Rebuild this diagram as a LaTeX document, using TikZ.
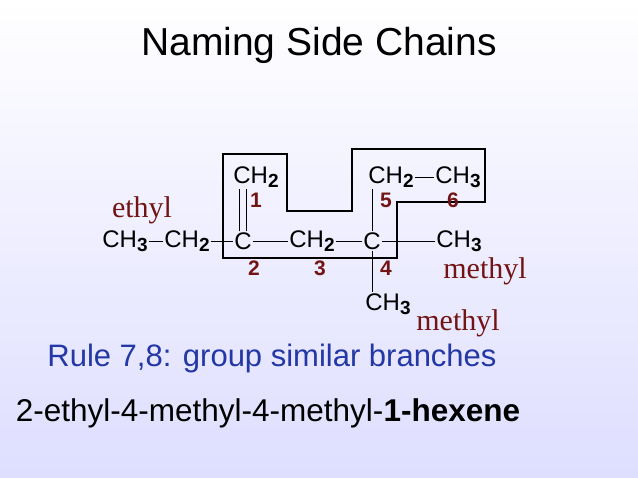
\documentclass[tikz,border=0pt]{standalone}
\usepackage{fontspec}
\setmainfont{Liberation Sans}
\newfontfamily\serifname{Liberation Serif}
\usetikzlibrary{positioning}
\definecolor{numred}{RGB}{115,20,20}
\definecolor{ruleblue}{RGB}{35,55,165}
\newcommand{\sub}[1]{\raisebox{-0.35ex}{\textbf{\fontsize{19}{19}\selectfont #1}}}
\tikzset{
	grp/.style={font=\fontsize{24}{24}\selectfont, inner sep=1pt},
	num/.style={font=\bfseries\fontsize{21}{21}\selectfont, text=numred},
	side/.style={font=\serifname\fontsize{30}{30}\selectfont, text=numred},
	bond/.style={line width=0.9pt},
}
\begin{document}
\begin{tikzpicture}[x=1pt,y=-1pt]
\shade[top color=white, bottom color=blue!13] (0,0) rectangle (638,478);
\useasboundingbox (0,0) rectangle (638,478);
\node[font=\fontsize{39}{39}\selectfont] (title) at (319,45) {Naming Side Chains};
% main chain
\node[grp] (a) at (125,241) {CH\sub{3}};
\node[grp] (b) at (187,241) {CH\sub{2}};
\node[grp] (c2) at (243,241) {C};
\node[grp] (c3) at (312,241) {CH\sub{2}};
\node[grp] (c4) at (372,241) {C};
\node[grp] (r) at (459,241) {CH\sub{3}};
\node[grp] (t1) at (256,177) {CH\sub{2}};
\node[grp] (t5) at (391,177) {CH\sub{2}};
\node[grp] (t6) at (458,177) {CH\sub{3}};
\node[grp] (d) at (388,304) {CH\sub{3}};
\draw[bond] (a) -- (b);
\draw[bond] (b) -- (c2);
\draw[bond] (c2) -- (c3);
\draw[bond] (c3) -- (c4);
\draw[bond] (c4) -- (r);
\draw[bond] (t5) -- (t6);
\draw[bond] ([xshift=-3.5]c2.north) -- ([xshift=-3.5]c2.north |- t1.south);
\draw[bond] ([xshift=3.5]c2.north) -- ([xshift=3.5]c2.north |- t1.south);
\draw[bond] (c4.north) -- (c4.north |- t5.south);
\draw[bond] (c4.south) -- (c4.south |- d.north);
% longest chain outline
\draw[line width=1.8pt] (223,154) -- (287,154) -- (287,211) -- (352,211) -- (352,149)
	-- (485,149) -- (485,202) -- (397,202) -- (397,258) -- (223,258) -- cycle;
% numbering
\node[num] (n1) at (256,200) {1};
\node[num] (n2) at (254,268) {2};
\node[num] (n3) at (320,268) {3};
\node[num] (n4) at (386,268) {4};
\node[num] (n5) at (386,200) {5};
\node[num] (n6) at (453,200) {6};
\node[side] (eth) at (142,210) {ethyl};
\node[side] (me1) at (485,271) {methyl};
\node[side] (me2) at (458,323) {methyl};
\node[font=\fontsize{31}{31}\selectfont, text=ruleblue] (rule) at (272,358) {Rule 7,8: group similar branches};
\node[font=\fontsize{31.5}{31.5}\selectfont] (name) at (268,413) {2-ethyl-4-methyl-4-methyl-\textbf{1-hexene}};
\end{tikzpicture}
\end{document}
